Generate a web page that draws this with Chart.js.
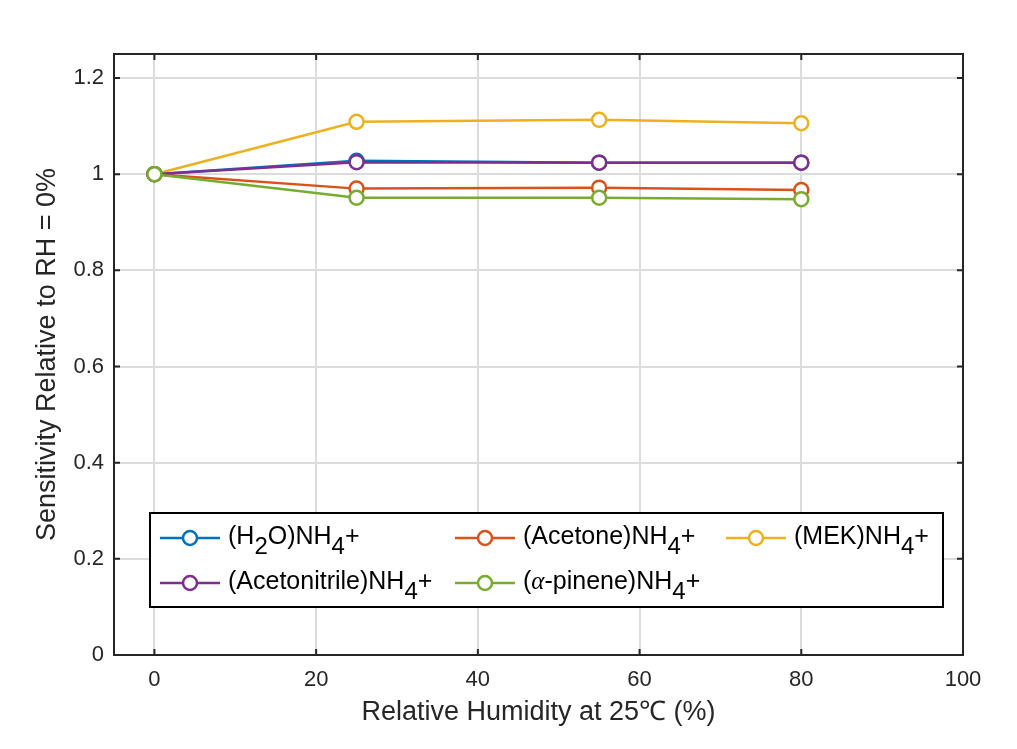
<!DOCTYPE html>
<html>
<head>
<meta charset="utf-8">
<script src="https://cdn.jsdelivr.net/npm/chart.js@4"></script>
<style>
  html, body { margin: 0; padding: 0; background: #fff; }
</style>
</head>
<body>
<canvas id="chart" width="1017" height="749"></canvas>
<script>
// data
const humidity = [0, 25, 55, 80];
const h2o = [1, 1.028, 1.024, 1.024];
const acetone = [1, 0.970, 0.972, 0.967];
const mek = [1, 1.109, 1.113, 1.106];
const acetonitrile = [1, 1.025, 1.024, 1.024];
const pinene = [1, 0.951, 0.951, 0.948];
const seriesNames = ['(H_2O)NH_4+', '(Acetone)NH_4+', '(MEK)NH_4+', '(Acetonitrile)NH_4+', '(α-pinene)NH_4+'];
const xTicks = [0, 20, 40, 60, 80, 100];
const yTicks = [0, 0.2, 0.4, 0.6, 0.8, 1, 1.2];

const colors = ['#0072BD', '#D95319', '#EDB120', '#7E2F8E', '#77AC30'];
const allSeries = [h2o, acetone, mek, acetonitrile, pinene];
const FONT = '"Liberation Sans", Arial, sans-serif';
const INK = '#262626';

const datasets = allSeries.map((vals, i) => ({
  label: seriesNames[i],
  data: humidity.map((h, j) => ({ x: h, y: vals[j] })),
  borderColor: colors[i],
  backgroundColor: colors[i],
  borderWidth: 2.5,
  pointRadius: 7,
  pointBorderWidth: 2.5,
  pointBackgroundColor: '#fff',
  pointBorderColor: colors[i],
  order: allSeries.length - i,  // later series on top, like matlab
  tension: 0
}));

// draws one label, '_x' means x is a subscript
function drawLabel(ctx, text, x, y) {
  let i = 0;
  while (i < text.length) {
    let ch = text[i];
    if (ch === '_') {
      ctx.font = '24px ' + FONT;
      ctx.fillText(text[i + 1], x, y + 10);
      x += ctx.measureText(text[i + 1]).width;
      i += 2;
      continue;
    }
    if (ch === 'α') {
      ctx.font = 'italic 25px "Liberation Serif", serif';
    } else {
      ctx.font = '25px ' + FONT;
    }
    ctx.fillText(ch, x, y);
    x += ctx.measureText(ch).width;
    i++;
  }
}

const framePlugin = {
  id: 'frame',
  afterDraw(chart) {
    const { ctx, chartArea: a, scales: { x, y } } = chart;
    ctx.save();
    ctx.strokeStyle = INK;
    ctx.lineWidth = 2;
    ctx.beginPath();
    xTicks.forEach(v => {
      const px = x.getPixelForValue(v);
      ctx.moveTo(px, a.bottom); ctx.lineTo(px, a.bottom - 6);
      ctx.moveTo(px, a.top); ctx.lineTo(px, a.top + 6);
    });
    yTicks.forEach(v => {
      const py = y.getPixelForValue(v);
      ctx.moveTo(a.left, py); ctx.lineTo(a.left + 6, py);
      ctx.moveTo(a.right, py); ctx.lineTo(a.right - 6, py);
    });
    ctx.stroke();
    ctx.strokeRect(a.left, a.top, a.right - a.left, a.bottom - a.top);

    // legend box
    const bx = a.left + 36, by = a.top + 459, bw = 793, bh = 94;
    ctx.fillStyle = '#fff';
    ctx.fillRect(bx, by, bw, bh);
    ctx.strokeStyle = '#000';
    ctx.strokeRect(bx, by, bw, bh);
    const cols = [bx + 10, bx + 305, bx + 576];
    const rows = [by + 25, by + 70];
    chart.data.datasets.forEach((ds, i) => {
      const lx = cols[i % 3], ly = rows[Math.floor(i / 3)];
      ctx.strokeStyle = ds.borderColor;
      ctx.lineWidth = 2.5;
      ctx.beginPath();
      ctx.moveTo(lx, ly); ctx.lineTo(lx + 60, ly);
      ctx.stroke();
      ctx.beginPath();
      ctx.arc(lx + 30, ly, 7, 0, Math.PI * 2);
      ctx.fillStyle = '#fff';
      ctx.fill();
      ctx.stroke();
      ctx.fillStyle = '#000';
      ctx.textBaseline = 'alphabetic';
      drawLabel(ctx, ds.label, lx + 68, ly + 6);
    });
    ctx.restore();
  }
};

new Chart(document.getElementById('chart'), {
  type: 'line',
  data: { datasets },
  plugins: [framePlugin],
  options: {
    responsive: false,
    animation: false,
    layout: { padding: { left: 0, top: 54, right: 54, bottom: 0 } },
    plugins: { legend: { display: false }, tooltip: { enabled: false } },
    scales: {
      x: {
        type: 'linear',
        min: -5,
        max: 100,
        afterBuildTicks: s => { s.ticks = xTicks.map(v => ({ value: v })); },
        afterFit: s => { s.height = 94; },
        grid: { color: '#dcdcdc', lineWidth: 2, drawTicks: false },
        border: { display: false },
        ticks: { color: INK, font: { family: FONT, size: 22 }, padding: 12 },
        title: {
          display: true,
          text: 'Relative Humidity at 25℃ (%)',
          color: INK,
          font: { family: FONT, size: 27 },
          padding: { top: 0, bottom: 20 }
        }
      },
      y: {
        min: 0,
        max: 1.25,
        afterBuildTicks: s => { s.ticks = yTicks.map(v => ({ value: v })); },
        afterFit: s => { s.width = 114; },
        grid: { color: '#dcdcdc', lineWidth: 2, drawTicks: false },
        border: { display: false },
        ticks: {
          color: INK,
          font: { family: FONT, size: 22 },
          padding: 10,
          callback: v => String(+v.toFixed(1))
        },
        title: {
          display: true,
          text: 'Sensitivity Relative to RH = 0%',
          color: INK,
          font: { family: FONT, size: 27 },
          padding: { top: 31, bottom: 0 }
        }
      }
    }
  }
});
</script>
</body>
</html>
